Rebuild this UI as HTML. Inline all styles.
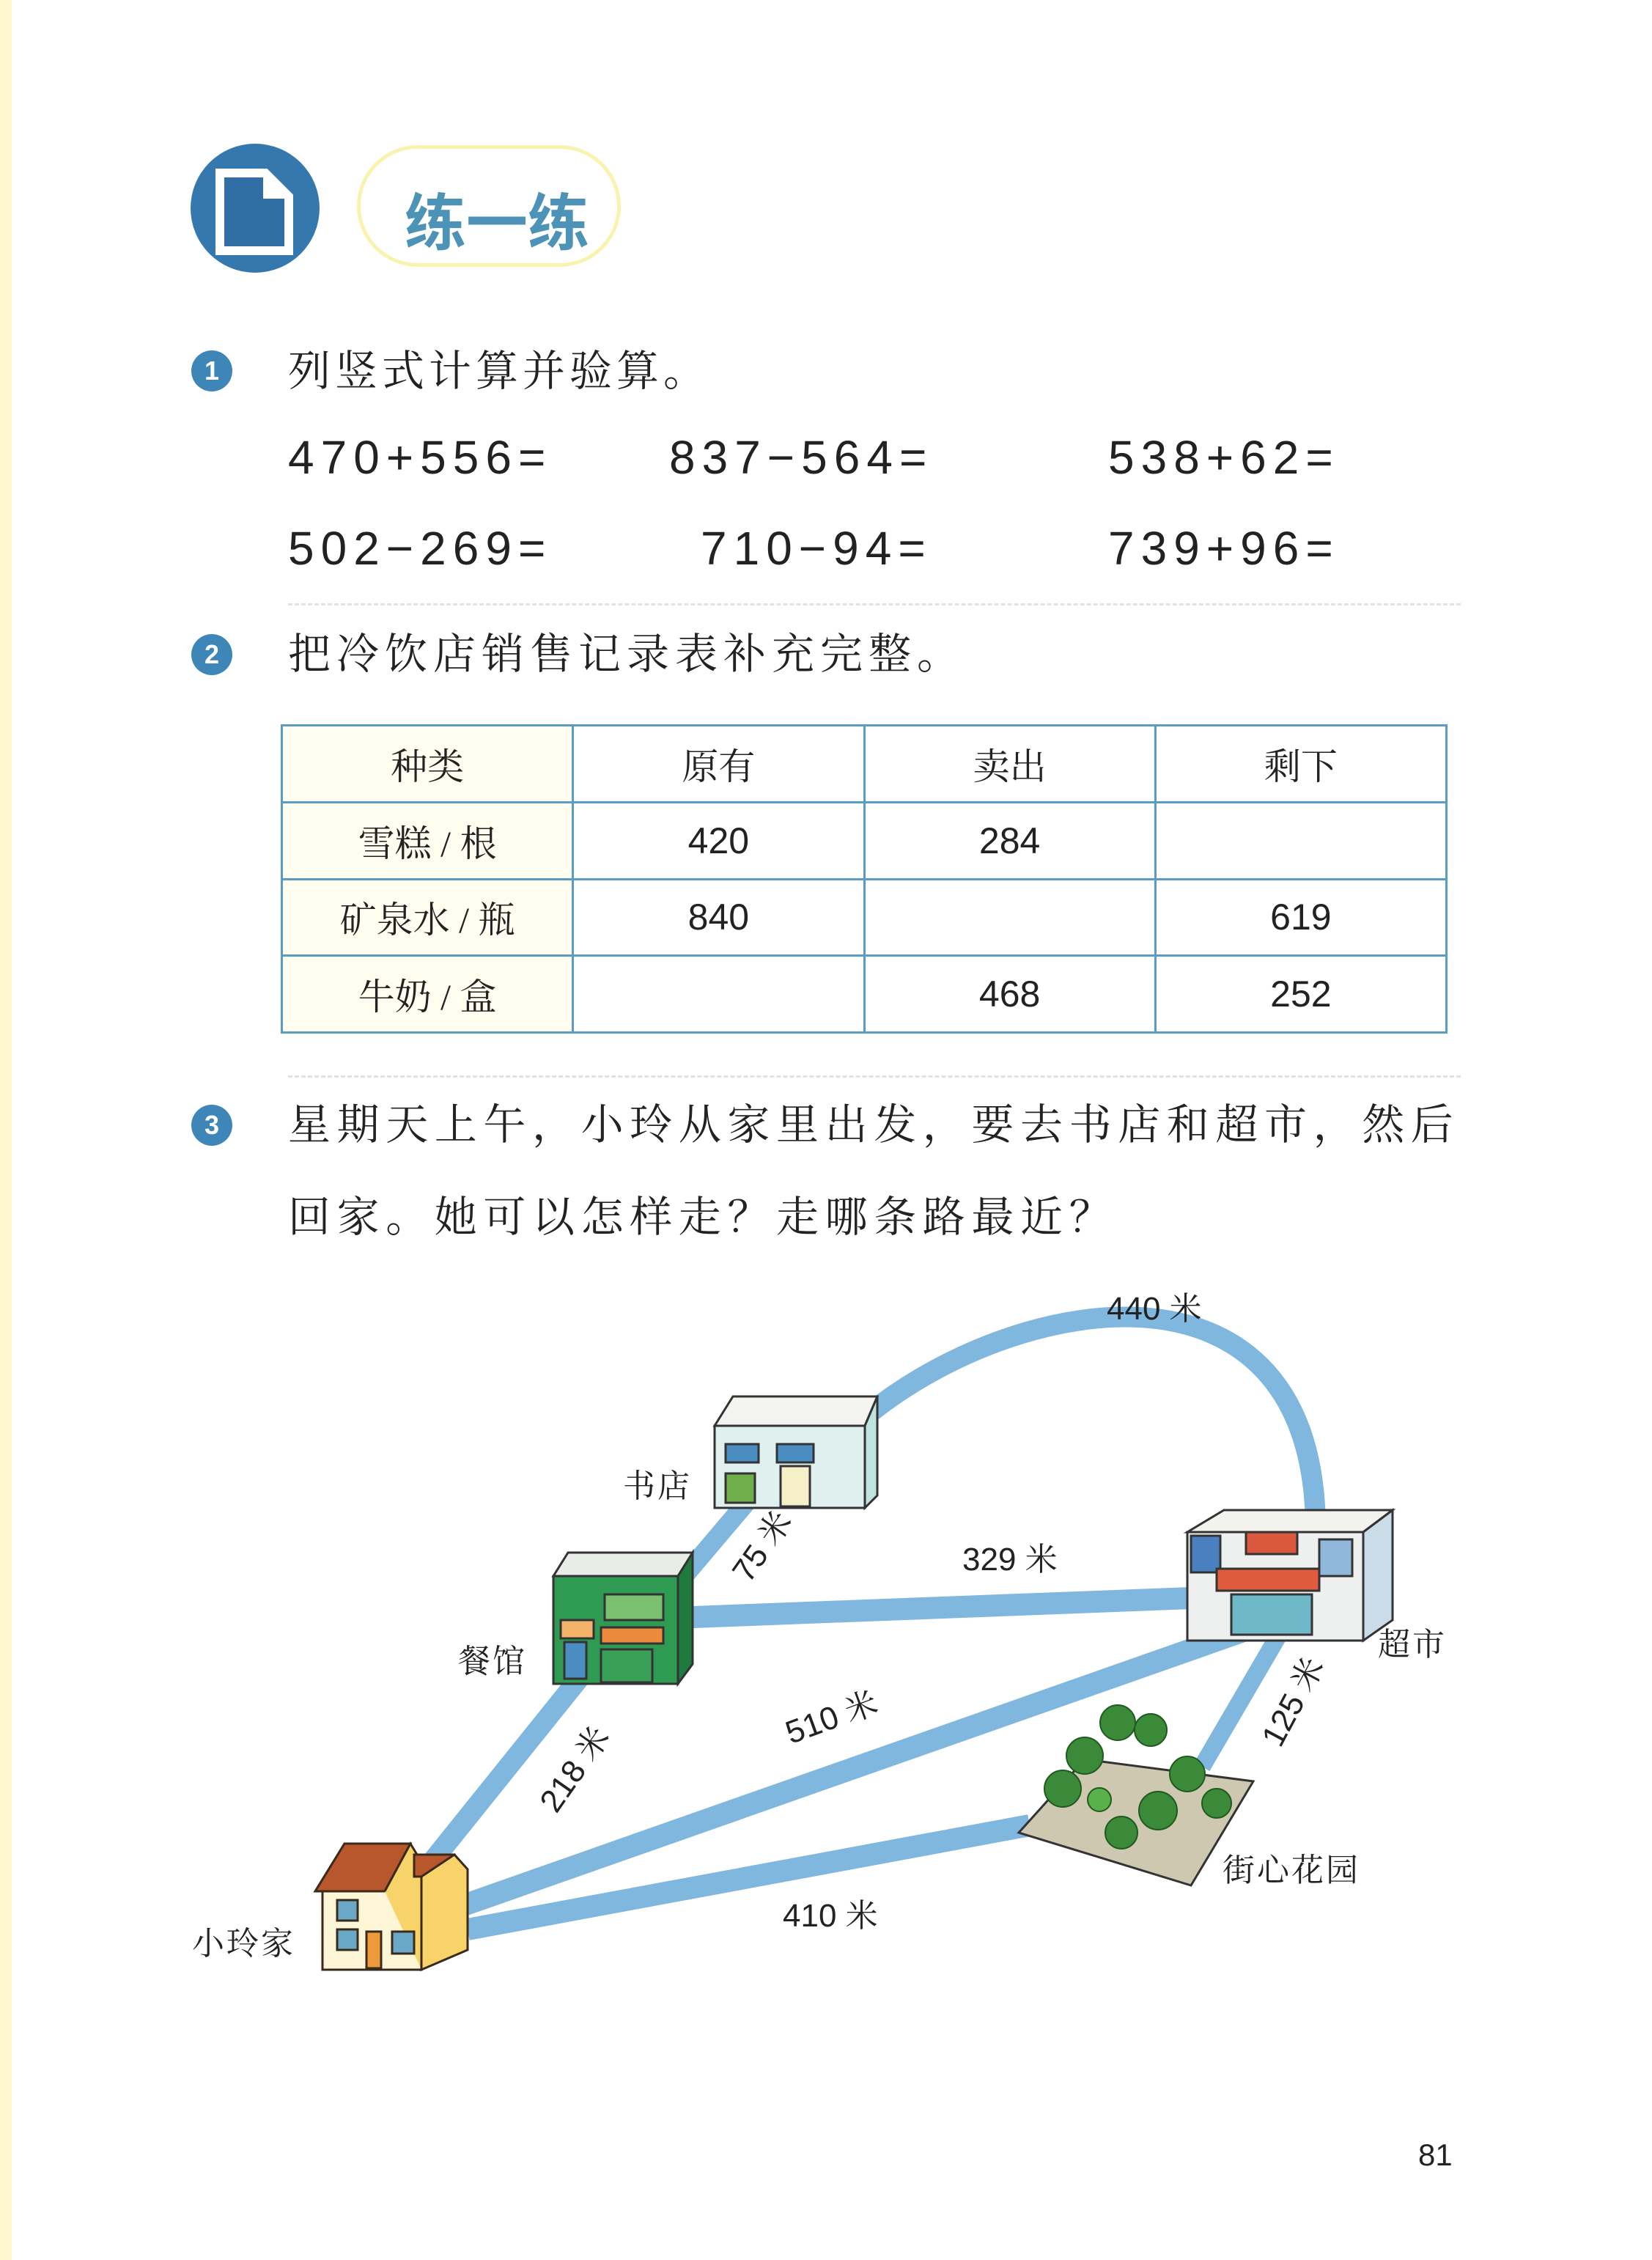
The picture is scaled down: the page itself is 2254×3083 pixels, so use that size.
<!DOCTYPE html>
<html><head><meta charset="utf-8"><style>
html,body{margin:0;padding:0;}
body{width:2254px;height:3083px;position:relative;background:#fff;overflow:hidden;font-family:"Liberation Serif","Noto Serif CJK SC",serif;color:#222;}
.t{position:absolute;white-space:nowrap;}
.cn{font-family:"Liberation Serif","Noto Serif CJK SC",serif;font-size:58px;letter-spacing:6px;line-height:1;}
.eq{font-family:"Liberation Sans",sans-serif;font-size:64px;letter-spacing:9px;line-height:1;}
.b{position:absolute;width:56px;height:56px;border-radius:50%;background:#3f86b8;color:#fff;font:bold 36px "Liberation Sans",sans-serif;text-align:center;line-height:56px;}
table{position:absolute;left:383px;top:988px;width:1592px;height:422px;border-collapse:collapse;}
td{border:3px solid #5a9cc4;text-align:center;font-family:"Liberation Sans",sans-serif;font-size:50px;width:25%;}
td.c{font-family:"Liberation Serif","Noto Serif CJK SC",serif;font-size:50px;background:#fffdf0;}
.sm{font-family:"Liberation Sans","Noto Serif CJK SC",sans-serif;font-size:44px;line-height:1;}
.lb{font-family:"Liberation Serif","Noto Serif CJK SC",serif;font-size:44px;line-height:1;letter-spacing:3px;}
</style></head><body>
<div style="position:absolute;left:0;top:0;width:16px;height:3083px;background:#fdf8cf"></div>

<!-- header -->
<div style="position:absolute;left:260px;top:196px;width:176px;height:176px;border-radius:50%;background:#3478ad"></div>
<svg style="position:absolute;left:290px;top:230px" width="120" height="120">
<path d="M10 6 H72 L104 38 V112 H10 Z" fill="#2f6fa6" stroke="#fff" stroke-width="12"/>
<path d="M72 6 V38 H104" fill="#fff" stroke="#fff" stroke-width="6"/>
</svg>
<div style="position:absolute;left:487px;top:198px;width:360px;height:166px;border:5px solid #f8f4b0;border-radius:84px;box-sizing:border-box"></div>
<div class="t" style="left:552px;top:238px;font-family:'Liberation Sans','Noto Sans CJK SC',sans-serif;font-size:84px;color:#4d93b7;font-weight:bold">练一练</div>

<!-- 1 -->
<div class="b" style="left:261px;top:478px">1</div>
<div class="t cn" style="left:393px;top:478px">列竖式计算并验算。</div>
<div class="t eq" style="left:393px;top:592px">470+556=</div>
<div class="t eq" style="left:913px;top:592px">837−564=</div>
<div class="t eq" style="left:1512px;top:592px">538+62=</div>
<div class="t eq" style="left:393px;top:716px">502−269=</div>
<div class="t eq" style="left:956px;top:716px">710−94=</div>
<div class="t eq" style="left:1512px;top:716px">739+96=</div>
<div style="position:absolute;left:393px;top:823px;width:1600px;height:0;border-top:3px dashed #e2e2e2"></div>

<!-- 2 -->
<div class="b" style="left:261px;top:865px">2</div>
<div class="t cn" style="left:393px;top:864px;letter-spacing:8px">把冷饮店销售记录表补充完整。</div>
<table>
<tr><td class="c">种类</td><td class="c" style="background:#fff">原有</td><td class="c" style="background:#fff">卖出</td><td class="c" style="background:#fff">剩下</td></tr>
<tr><td class="c">雪糕 / 根</td><td>420</td><td>284</td><td></td></tr>
<tr><td class="c">矿泉水 / 瓶</td><td>840</td><td></td><td>619</td></tr>
<tr><td class="c">牛奶 / 盒</td><td></td><td>468</td><td>252</td></tr>
</table>
<div style="position:absolute;left:393px;top:1467px;width:1600px;height:0;border-top:3px dashed #e2e2e2"></div>

<!-- 3 -->
<div class="b" style="left:261px;top:1507px">3</div>
<div class="t cn" style="left:393px;top:1506px;letter-spacing:8.6px">星期天上午，小玲从家里出发，要去书店和超市，然后</div>
<div class="t cn" style="left:393px;top:1632px;letter-spacing:8.6px">回家。她可以怎样走？走哪条路最近？</div>

<!-- map -->
<svg style="position:absolute;left:0;top:0" width="2254" height="3083">
<g stroke="#7fb7de" fill="none" stroke-linecap="butt">
<path d="M585 2545 L822 2250" stroke-width="28"/>
<path d="M925 2160 L1035 2030" stroke-width="26"/>
<path d="M1190 1925 C1400 1760 1790 1700 1795 2080" stroke-width="28"/>
<path d="M946 2206 L1625 2180" stroke-width="30"/>
<path d="M630 2600 L1725 2215" stroke-width="30"/>
<path d="M638 2632 L1405 2490" stroke-width="30"/>
<path d="M1640 2410 L1748 2225" stroke-width="24"/>
</g>
<!-- bookstore -->
<g stroke="#333" stroke-width="3">
<path d="M975 1945 L1000 1905 H1197 L1180 1945 Z" fill="#f4f4f0"/>
<path d="M975 1945 H1180 V2057 H975 Z" fill="#dff0ef"/>
<path d="M1180 1945 L1197 1905 V2040 L1180 2057 Z" fill="#bfe3de"/>
<rect x="990" y="1970" width="45" height="25" fill="#4a8dc0"/>
<rect x="1060" y="1970" width="50" height="25" fill="#4a8dc0"/>
<rect x="990" y="2010" width="40" height="40" fill="#6fae4a"/>
<rect x="1065" y="2000" width="40" height="55" fill="#f5f0c8"/>
</g>
<!-- restaurant -->
<g stroke="#333" stroke-width="3">
<path d="M755 2150 L775 2118 H945 L925 2150 Z" fill="#e8ede8"/>
<path d="M755 2150 H925 V2297 H755 Z" fill="#2f9a52"/>
<path d="M925 2150 L945 2118 V2270 L925 2297 Z" fill="#1f7a3e"/>
<rect x="825" y="2175" width="80" height="35" fill="#7ac070"/>
<rect x="765" y="2210" width="45" height="25" fill="#f2b26a"/>
<rect x="820" y="2220" width="85" height="22" fill="#ec8a3c"/>
<rect x="770" y="2240" width="30" height="50" fill="#4a8dc0"/>
<rect x="820" y="2250" width="70" height="45" fill="#3aa058"/>
</g>
<!-- supermarket -->
<g stroke="#333" stroke-width="3">
<path d="M1620 2090 L1670 2060 H1900 L1860 2090 Z" fill="#f2f2ee"/>
<path d="M1620 2090 H1860 V2238 H1620 Z" fill="#eef0f0"/>
<path d="M1860 2090 L1900 2060 V2210 L1860 2238 Z" fill="#c9dce8"/>
<rect x="1625" y="2095" width="40" height="50" fill="#4a7fc0"/>
<rect x="1800" y="2100" width="45" height="50" fill="#90b8dc"/>
<rect x="1700" y="2090" width="70" height="30" fill="#d9583e"/>
<path d="M1660 2140 H1800 V2170 H1660 Z" fill="#e05a3e"/>
<rect x="1680" y="2175" width="110" height="55" fill="#6fb8c8"/>
</g>
<!-- garden -->
<g stroke="#333" stroke-width="3">
<path d="M1390 2500 L1480 2400 L1710 2430 L1625 2572 Z" fill="#cfc8b0"/>
</g>
<g fill="#3a8a3a" stroke="#1f5a1f" stroke-width="2">
<circle cx="1480" cy="2395" r="25"/><circle cx="1525" cy="2350" r="24"/><circle cx="1570" cy="2360" r="22"/>
<circle cx="1450" cy="2440" r="25"/><circle cx="1620" cy="2420" r="24"/><circle cx="1580" cy="2470" r="26"/>
<circle cx="1530" cy="2500" r="22"/><circle cx="1660" cy="2460" r="20"/><circle cx="1500" cy="2455" r="16" fill="#5ab04a"/>
</g>
<!-- house -->
<g stroke="#3a2a1a" stroke-width="3">
<path d="M430 2580 L470 2515 H560 L525 2580 Z" fill="#b8562c"/>
<path d="M440 2580 H575 V2687 H440 Z" fill="#fdf7d8"/>
<path d="M525 2580 L560 2515 L575 2540 V2687 H575" fill="#f7d36a"/>
<path d="M565 2530 H620 V2560 H565 Z" fill="#b8562c"/>
<path d="M575 2560 L620 2530 L638 2550 V2660 L575 2687 Z" fill="#f7d36a"/>
<rect x="460" y="2592" width="28" height="28" fill="#6aa8c8"/>
<rect x="460" y="2632" width="28" height="28" fill="#6aa8c8"/>
<rect x="500" y="2635" width="20" height="50" fill="#ee9a3a"/>
<rect x="535" y="2635" width="30" height="30" fill="#6aa8c8"/>
</g>
</svg>

<div class="t sm" style="left:1510px;top:1764px">440 米</div>
<div class="t sm" style="left:1313px;top:2106px">329 米</div>
<div class="t sm" style="left:1068px;top:2592px">410 米</div>
<div class="t sm" style="left:1070px;top:2322px;transform:rotate(-20deg)">510 米</div>
<div class="t sm" style="left:720px;top:2392px;transform:rotate(-55deg)">218 米</div>
<div class="t sm" style="left:988px;top:2088px;transform:rotate(-55deg)">75 米</div>
<div class="t sm" style="left:1700px;top:2300px;transform:rotate(-62deg)">125 米</div>
<div class="t lb" style="left:850px;top:2006px">书店</div>
<div class="t lb" style="left:625px;top:2245px">餐馆</div>
<div class="t lb" style="left:1880px;top:2222px">超市</div>
<div class="t lb" style="left:1668px;top:2530px">街心花园</div>
<div class="t lb" style="left:262px;top:2630px">小玲家</div>
<div class="t" style="left:1935px;top:2916px;font:42px 'Liberation Sans',sans-serif">81</div>
</body></html>
